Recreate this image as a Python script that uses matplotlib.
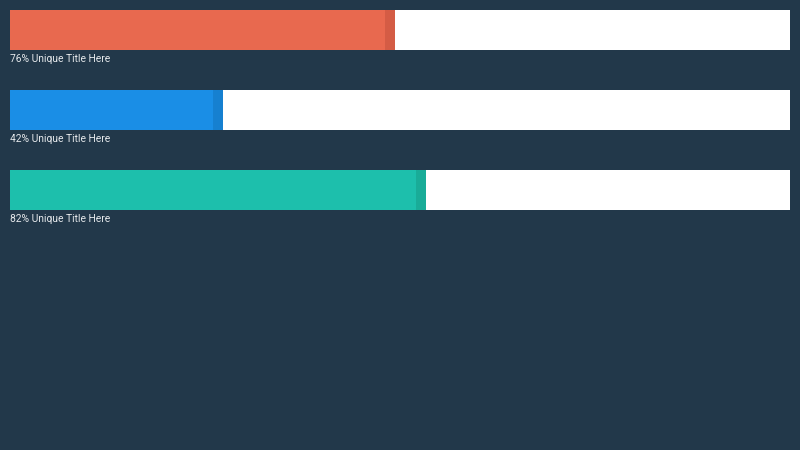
import matplotlib
matplotlib.use("Agg")
import matplotlib.pyplot as plt

# labels shown under each bar and how far each bar is filled (percent of track)
labels = ["Unique Title Here", "Unique Title Here", "Unique Title Here"]
label_pct = [76, 42, 82]
fill_pct = [49.4, 27.3, 53.3]
colors = ["#e8694f", "#1a8ee6", "#1dbfac"]
cap_colors = ["#d45c45", "#1680d0", "#19ac98"]

BG = "#22384a"
fig = plt.figure(figsize=(8, 4.5), dpi=100, facecolor=BG)
# axes spans track width (10px..790px), full height in pixels
ax = fig.add_axes([10 / 800, 0, 780 / 800, 1])
ax.set_facecolor(BG)
ax.set_xlim(0, 100)
ax.set_ylim(450, 0)
ax.axis("off")

bar_h = 40
cap = 10 / 780 * 100  # darker end piece, 10px wide
for i, (name, pct, fill) in enumerate(zip(labels, label_pct, fill_pct)):
    top = 10 + i * 80
    yc = top + bar_h / 2
    ax.barh(yc, 100, height=bar_h, color="white", linewidth=0)
    ax.barh(yc, fill, height=bar_h, color=colors[i], linewidth=0)
    ax.barh(yc, cap, left=fill - cap, height=bar_h, color=cap_colors[i], linewidth=0)
    ax.text(0, top + bar_h + 8.5, f"{pct}% {name}", color="#e6e9ec",
            fontsize=7.4, family="Roboto", va="center", ha="left")

fig.savefig("out.png", dpi=100, facecolor=BG)
